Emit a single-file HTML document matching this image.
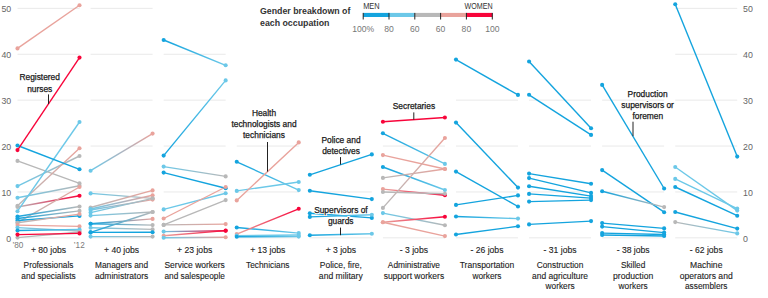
<!DOCTYPE html>
<html><head><meta charset="utf-8"><style>
html,body{margin:0;padding:0;background:#fff;}
svg{display:block;}
text{font-family:"Liberation Sans",sans-serif;}
.ax{font-size:8.8px;fill:#666;}
.yr{font-size:8.2px;fill:#7a7a7a;}
.jb{font-size:8.6px;fill:#1e1e1e;stroke:#1e1e1e;stroke-width:0.12px;}
.nm{font-size:8.3px;fill:#1e1e1e;stroke:#1e1e1e;stroke-width:0.12px;}
.ah{font-size:8.4px;fill:#fff;stroke:#fff;stroke-width:2.2px;stroke-linejoin:round;}
.an{font-size:8.4px;fill:#1a1a1a;stroke:#1a1a1a;stroke-width:0.25px;}
.tt{font-size:8.8px;font-weight:bold;fill:#333;}
.lh{font-size:8.2px;fill:#333;}
.tl{font-size:8.6px;fill:#777;}
</style></head><body>
<svg width="768" height="298" viewBox="0 0 768 298">
<rect width="768" height="298" fill="#fff"/>
<defs><linearGradient id="g1" gradientUnits="userSpaceOnUse" x1="17.50" y1="186.10" x2="79.50" y2="156.00"><stop offset="0" stop-color="#6cc8e8"/><stop offset="1" stop-color="#b8b8b8"/></linearGradient><linearGradient id="g2" gradientUnits="userSpaceOnUse" x1="17.50" y1="205.80" x2="79.50" y2="148.20"><stop offset="0" stop-color="#b8b8b8"/><stop offset="1" stop-color="#e9a39c"/></linearGradient><linearGradient id="g3" gradientUnits="userSpaceOnUse" x1="17.50" y1="197.70" x2="79.50" y2="185.80"><stop offset="0" stop-color="#6cc8e8"/><stop offset="1" stop-color="#b8b8b8"/></linearGradient><linearGradient id="g4" gradientUnits="userSpaceOnUse" x1="17.50" y1="207.00" x2="79.50" y2="195.70"><stop offset="0" stop-color="#b8b8b8"/><stop offset="1" stop-color="#f8043a"/></linearGradient><linearGradient id="g5" gradientUnits="userSpaceOnUse" x1="17.50" y1="222.70" x2="79.50" y2="187.00"><stop offset="0" stop-color="#b8b8b8"/><stop offset="1" stop-color="#e9a39c"/></linearGradient><linearGradient id="g6" gradientUnits="userSpaceOnUse" x1="17.50" y1="216.50" x2="79.50" y2="206.50"><stop offset="0" stop-color="#14a4de"/><stop offset="1" stop-color="#b8b8b8"/></linearGradient><linearGradient id="g7" gradientUnits="userSpaceOnUse" x1="17.50" y1="218.50" x2="79.50" y2="210.90"><stop offset="0" stop-color="#14a4de"/><stop offset="1" stop-color="#b8b8b8"/></linearGradient><linearGradient id="g8" gradientUnits="userSpaceOnUse" x1="17.50" y1="222.70" x2="79.50" y2="214.10"><stop offset="0" stop-color="#b8b8b8"/><stop offset="1" stop-color="#e9a39c"/></linearGradient><linearGradient id="g9" gradientUnits="userSpaceOnUse" x1="17.50" y1="227.60" x2="79.50" y2="231.00"><stop offset="0" stop-color="#6cc8e8"/><stop offset="1" stop-color="#b8b8b8"/></linearGradient><linearGradient id="g10" gradientUnits="userSpaceOnUse" x1="17.50" y1="230.50" x2="79.50" y2="229.50"><stop offset="0" stop-color="#14a4de"/><stop offset="1" stop-color="#6cc8e8"/></linearGradient><linearGradient id="g11" gradientUnits="userSpaceOnUse" x1="90.58" y1="170.70" x2="152.58" y2="133.60"><stop offset="0" stop-color="#6cc8e8"/><stop offset="1" stop-color="#e9a39c"/></linearGradient><linearGradient id="g12" gradientUnits="userSpaceOnUse" x1="90.58" y1="193.40" x2="152.58" y2="198.40"><stop offset="0" stop-color="#6cc8e8"/><stop offset="1" stop-color="#b8b8b8"/></linearGradient><linearGradient id="g13" gradientUnits="userSpaceOnUse" x1="90.58" y1="207.50" x2="152.58" y2="190.40"><stop offset="0" stop-color="#b8b8b8"/><stop offset="1" stop-color="#e9a39c"/></linearGradient><linearGradient id="g14" gradientUnits="userSpaceOnUse" x1="90.58" y1="209.00" x2="152.58" y2="195.30"><stop offset="0" stop-color="#6cc8e8"/><stop offset="1" stop-color="#e9a39c"/></linearGradient><linearGradient id="g15" gradientUnits="userSpaceOnUse" x1="90.58" y1="210.00" x2="152.58" y2="199.60"><stop offset="0" stop-color="#6cc8e8"/><stop offset="1" stop-color="#e9a39c"/></linearGradient><linearGradient id="g16" gradientUnits="userSpaceOnUse" x1="90.58" y1="212.60" x2="152.58" y2="198.40"><stop offset="0" stop-color="#6cc8e8"/><stop offset="1" stop-color="#b8b8b8"/></linearGradient><linearGradient id="g17" gradientUnits="userSpaceOnUse" x1="90.58" y1="215.60" x2="152.58" y2="212.00"><stop offset="0" stop-color="#6cc8e8"/><stop offset="1" stop-color="#b8b8b8"/></linearGradient><linearGradient id="g18" gradientUnits="userSpaceOnUse" x1="90.58" y1="223.70" x2="152.58" y2="218.90"><stop offset="0" stop-color="#14a4de"/><stop offset="1" stop-color="#e9a39c"/></linearGradient><linearGradient id="g19" gradientUnits="userSpaceOnUse" x1="90.58" y1="223.70" x2="152.58" y2="225.10"><stop offset="0" stop-color="#14a4de"/><stop offset="1" stop-color="#b8b8b8"/></linearGradient><linearGradient id="g20" gradientUnits="userSpaceOnUse" x1="90.58" y1="227.70" x2="152.58" y2="229.40"><stop offset="0" stop-color="#6cc8e8"/><stop offset="1" stop-color="#b8b8b8"/></linearGradient><linearGradient id="g21" gradientUnits="userSpaceOnUse" x1="90.58" y1="232.40" x2="152.58" y2="212.00"><stop offset="0" stop-color="#14a4de"/><stop offset="1" stop-color="#b8b8b8"/></linearGradient><linearGradient id="g22" gradientUnits="userSpaceOnUse" x1="90.58" y1="236.60" x2="152.58" y2="236.60"><stop offset="0" stop-color="#6cc8e8"/><stop offset="1" stop-color="#b8b8b8"/></linearGradient><linearGradient id="g23" gradientUnits="userSpaceOnUse" x1="163.66" y1="40.00" x2="225.66" y2="65.30"><stop offset="0" stop-color="#14a4de"/><stop offset="1" stop-color="#6cc8e8"/></linearGradient><linearGradient id="g24" gradientUnits="userSpaceOnUse" x1="163.66" y1="155.60" x2="225.66" y2="80.40"><stop offset="0" stop-color="#14a4de"/><stop offset="1" stop-color="#6cc8e8"/></linearGradient><linearGradient id="g25" gradientUnits="userSpaceOnUse" x1="163.66" y1="166.60" x2="225.66" y2="176.40"><stop offset="0" stop-color="#6cc8e8"/><stop offset="1" stop-color="#b8b8b8"/></linearGradient><linearGradient id="g26" gradientUnits="userSpaceOnUse" x1="163.66" y1="224.90" x2="225.66" y2="224.10"><stop offset="0" stop-color="#b8b8b8"/><stop offset="1" stop-color="#e9a39c"/></linearGradient><linearGradient id="g27" gradientUnits="userSpaceOnUse" x1="163.66" y1="231.60" x2="225.66" y2="230.80"><stop offset="0" stop-color="#6cc8e8"/><stop offset="1" stop-color="#f8043a"/></linearGradient><linearGradient id="g28" gradientUnits="userSpaceOnUse" x1="163.66" y1="235.70" x2="225.66" y2="230.60"><stop offset="0" stop-color="#e9a39c"/><stop offset="1" stop-color="#f8043a"/></linearGradient><linearGradient id="g29" gradientUnits="userSpaceOnUse" x1="163.66" y1="237.70" x2="225.66" y2="237.20"><stop offset="0" stop-color="#6cc8e8"/><stop offset="1" stop-color="#e9a39c"/></linearGradient><linearGradient id="g30" gradientUnits="userSpaceOnUse" x1="236.74" y1="161.80" x2="298.74" y2="190.10"><stop offset="0" stop-color="#14a4de"/><stop offset="1" stop-color="#6cc8e8"/></linearGradient><linearGradient id="g31" gradientUnits="userSpaceOnUse" x1="236.74" y1="227.50" x2="298.74" y2="233.10"><stop offset="0" stop-color="#14a4de"/><stop offset="1" stop-color="#6cc8e8"/></linearGradient><linearGradient id="g32" gradientUnits="userSpaceOnUse" x1="236.74" y1="234.10" x2="298.74" y2="208.80"><stop offset="0" stop-color="#e9a39c"/><stop offset="1" stop-color="#f8043a"/></linearGradient><linearGradient id="g33" gradientUnits="userSpaceOnUse" x1="236.74" y1="236.80" x2="298.74" y2="236.60"><stop offset="0" stop-color="#14a4de"/><stop offset="1" stop-color="#6cc8e8"/></linearGradient><linearGradient id="g34" gradientUnits="userSpaceOnUse" x1="309.82" y1="216.90" x2="371.82" y2="214.80"><stop offset="0" stop-color="#14a4de"/><stop offset="1" stop-color="#6cc8e8"/></linearGradient><linearGradient id="g35" gradientUnits="userSpaceOnUse" x1="309.82" y1="235.20" x2="371.82" y2="233.70"><stop offset="0" stop-color="#14a4de"/><stop offset="1" stop-color="#6cc8e8"/></linearGradient><linearGradient id="g36" gradientUnits="userSpaceOnUse" x1="382.90" y1="133.30" x2="444.90" y2="163.90"><stop offset="0" stop-color="#14a4de"/><stop offset="1" stop-color="#6cc8e8"/></linearGradient><linearGradient id="g37" gradientUnits="userSpaceOnUse" x1="382.90" y1="167.00" x2="444.90" y2="190.00"><stop offset="0" stop-color="#14a4de"/><stop offset="1" stop-color="#6cc8e8"/></linearGradient><linearGradient id="g38" gradientUnits="userSpaceOnUse" x1="382.90" y1="177.90" x2="444.90" y2="169.00"><stop offset="0" stop-color="#b8b8b8"/><stop offset="1" stop-color="#e9a39c"/></linearGradient><linearGradient id="g39" gradientUnits="userSpaceOnUse" x1="382.90" y1="189.10" x2="444.90" y2="195.20"><stop offset="0" stop-color="#e9a39c"/><stop offset="1" stop-color="#f8043a"/></linearGradient><linearGradient id="g40" gradientUnits="userSpaceOnUse" x1="382.90" y1="207.90" x2="444.90" y2="138.00"><stop offset="0" stop-color="#b8b8b8"/><stop offset="1" stop-color="#e9a39c"/></linearGradient><linearGradient id="g41" gradientUnits="userSpaceOnUse" x1="382.90" y1="213.10" x2="444.90" y2="225.30"><stop offset="0" stop-color="#6cc8e8"/><stop offset="1" stop-color="#b8b8b8"/></linearGradient><linearGradient id="g42" gradientUnits="userSpaceOnUse" x1="382.90" y1="222.30" x2="444.90" y2="216.80"><stop offset="0" stop-color="#e9a39c"/><stop offset="1" stop-color="#f8043a"/></linearGradient><linearGradient id="g43" gradientUnits="userSpaceOnUse" x1="455.98" y1="216.50" x2="517.98" y2="218.60"><stop offset="0" stop-color="#14a4de"/><stop offset="1" stop-color="#6cc8e8"/></linearGradient><linearGradient id="g44" gradientUnits="userSpaceOnUse" x1="602.14" y1="191.20" x2="664.14" y2="207.10"><stop offset="0" stop-color="#14a4de"/><stop offset="1" stop-color="#b8b8b8"/></linearGradient><linearGradient id="g45" gradientUnits="userSpaceOnUse" x1="675.22" y1="222.10" x2="737.22" y2="233.40"><stop offset="0" stop-color="#b8b8b8"/><stop offset="1" stop-color="#6cc8e8"/></linearGradient></defs>
<g stroke="#e9e9e9" stroke-width="1"><line x1="17.50" y1="237.85" x2="79.50" y2="237.85"/><line x1="17.50" y1="191.95" x2="79.50" y2="191.95"/><line x1="17.50" y1="146.05" x2="79.50" y2="146.05"/><line x1="17.50" y1="100.15" x2="79.50" y2="100.15"/><line x1="17.50" y1="54.25" x2="79.50" y2="54.25"/><line x1="17.50" y1="8.35" x2="79.50" y2="8.35"/><line x1="90.58" y1="237.85" x2="152.58" y2="237.85"/><line x1="90.58" y1="191.95" x2="152.58" y2="191.95"/><line x1="90.58" y1="146.05" x2="152.58" y2="146.05"/><line x1="90.58" y1="100.15" x2="152.58" y2="100.15"/><line x1="90.58" y1="54.25" x2="152.58" y2="54.25"/><line x1="90.58" y1="8.35" x2="152.58" y2="8.35"/><line x1="163.66" y1="237.85" x2="225.66" y2="237.85"/><line x1="163.66" y1="191.95" x2="225.66" y2="191.95"/><line x1="163.66" y1="146.05" x2="225.66" y2="146.05"/><line x1="163.66" y1="100.15" x2="225.66" y2="100.15"/><line x1="163.66" y1="54.25" x2="225.66" y2="54.25"/><line x1="236.74" y1="237.85" x2="298.74" y2="237.85"/><line x1="236.74" y1="191.95" x2="298.74" y2="191.95"/><line x1="236.74" y1="146.05" x2="298.74" y2="146.05"/><line x1="309.82" y1="237.85" x2="371.82" y2="237.85"/><line x1="309.82" y1="191.95" x2="371.82" y2="191.95"/><line x1="382.90" y1="237.85" x2="444.90" y2="237.85"/><line x1="382.90" y1="191.95" x2="444.90" y2="191.95"/><line x1="382.90" y1="146.05" x2="444.90" y2="146.05"/><line x1="455.98" y1="237.85" x2="517.98" y2="237.85"/><line x1="455.98" y1="191.95" x2="517.98" y2="191.95"/><line x1="455.98" y1="146.05" x2="517.98" y2="146.05"/><line x1="455.98" y1="100.15" x2="517.98" y2="100.15"/><line x1="529.06" y1="237.85" x2="591.06" y2="237.85"/><line x1="529.06" y1="191.95" x2="591.06" y2="191.95"/><line x1="529.06" y1="146.05" x2="591.06" y2="146.05"/><line x1="529.06" y1="100.15" x2="591.06" y2="100.15"/><line x1="602.14" y1="237.85" x2="664.14" y2="237.85"/><line x1="602.14" y1="191.95" x2="664.14" y2="191.95"/><line x1="602.14" y1="146.05" x2="664.14" y2="146.05"/><line x1="602.14" y1="100.15" x2="664.14" y2="100.15"/><line x1="675.22" y1="237.85" x2="737.22" y2="237.85"/><line x1="675.22" y1="191.95" x2="737.22" y2="191.95"/><line x1="675.22" y1="146.05" x2="737.22" y2="146.05"/><line x1="675.22" y1="100.15" x2="737.22" y2="100.15"/><line x1="675.22" y1="54.25" x2="737.22" y2="54.25"/><line x1="675.22" y1="8.35" x2="737.22" y2="8.35"/></g>
<g stroke-width="1.4" fill="none"><line x1="17.50" y1="48.40" x2="79.50" y2="5.30" stroke="#e9a39c"/><line x1="17.50" y1="160.90" x2="79.50" y2="183.40" stroke="#b8b8b8"/><line x1="17.50" y1="186.10" x2="79.50" y2="156.00" stroke="url(#g1)"/><line x1="17.50" y1="205.80" x2="79.50" y2="148.20" stroke="url(#g2)"/><line x1="17.50" y1="197.70" x2="79.50" y2="185.80" stroke="url(#g3)"/><line x1="17.50" y1="207.00" x2="79.50" y2="195.70" stroke="url(#g4)"/><line x1="17.50" y1="222.70" x2="79.50" y2="187.00" stroke="url(#g5)"/><line x1="17.50" y1="211.20" x2="79.50" y2="122.00" stroke="#6cc8e8"/><line x1="17.50" y1="216.50" x2="79.50" y2="206.50" stroke="url(#g6)"/><line x1="17.50" y1="218.50" x2="79.50" y2="210.90" stroke="url(#g7)"/><line x1="17.50" y1="220.50" x2="79.50" y2="215.90" stroke="#14a4de"/><line x1="17.50" y1="222.70" x2="79.50" y2="214.10" stroke="url(#g8)"/><line x1="17.50" y1="225.10" x2="79.50" y2="226.40" stroke="#e9a39c"/><line x1="17.50" y1="227.60" x2="79.50" y2="231.00" stroke="url(#g9)"/><line x1="17.50" y1="230.50" x2="79.50" y2="229.50" stroke="url(#g10)"/><line x1="17.50" y1="237.60" x2="79.50" y2="232.00" stroke="#b8b8b8"/><line x1="17.50" y1="234.60" x2="79.50" y2="233.40" stroke="#f8043a"/><line x1="17.50" y1="145.50" x2="79.50" y2="169.30" stroke="#14a4de"/><line x1="17.50" y1="150.10" x2="79.50" y2="57.60" stroke="#f8043a"/><line x1="90.58" y1="170.70" x2="152.58" y2="133.60" stroke="url(#g11)"/><line x1="90.58" y1="193.40" x2="152.58" y2="198.40" stroke="url(#g12)"/><line x1="90.58" y1="207.50" x2="152.58" y2="190.40" stroke="url(#g13)"/><line x1="90.58" y1="209.00" x2="152.58" y2="195.30" stroke="url(#g14)"/><line x1="90.58" y1="210.00" x2="152.58" y2="199.60" stroke="url(#g15)"/><line x1="90.58" y1="212.60" x2="152.58" y2="198.40" stroke="url(#g16)"/><line x1="90.58" y1="215.60" x2="152.58" y2="212.00" stroke="url(#g17)"/><line x1="90.58" y1="223.70" x2="152.58" y2="218.90" stroke="url(#g18)"/><line x1="90.58" y1="223.70" x2="152.58" y2="225.10" stroke="url(#g19)"/><line x1="90.58" y1="227.70" x2="152.58" y2="229.40" stroke="url(#g20)"/><line x1="90.58" y1="232.40" x2="152.58" y2="212.00" stroke="url(#g21)"/><line x1="90.58" y1="232.40" x2="152.58" y2="232.30" stroke="#14a4de"/><line x1="90.58" y1="236.60" x2="152.58" y2="236.60" stroke="url(#g22)"/><line x1="163.66" y1="40.00" x2="225.66" y2="65.30" stroke="url(#g23)"/><line x1="163.66" y1="155.60" x2="225.66" y2="80.40" stroke="url(#g24)"/><line x1="163.66" y1="166.60" x2="225.66" y2="176.40" stroke="url(#g25)"/><line x1="163.66" y1="172.60" x2="225.66" y2="188.20" stroke="#14a4de"/><line x1="163.66" y1="209.40" x2="225.66" y2="193.20" stroke="#6cc8e8"/><line x1="163.66" y1="218.50" x2="225.66" y2="187.00" stroke="#e9a39c"/><line x1="163.66" y1="224.90" x2="225.66" y2="200.10" stroke="#b8b8b8"/><line x1="163.66" y1="224.90" x2="225.66" y2="224.10" stroke="url(#g26)"/><line x1="163.66" y1="231.60" x2="225.66" y2="230.80" stroke="url(#g27)"/><line x1="163.66" y1="235.70" x2="225.66" y2="230.60" stroke="url(#g28)"/><line x1="163.66" y1="237.70" x2="225.66" y2="237.20" stroke="url(#g29)"/><line x1="236.74" y1="161.80" x2="298.74" y2="190.10" stroke="url(#g30)"/><line x1="236.74" y1="190.90" x2="298.74" y2="182.00" stroke="#6cc8e8"/><line x1="236.74" y1="200.40" x2="298.74" y2="142.40" stroke="#e9a39c"/><line x1="236.74" y1="227.50" x2="298.74" y2="233.10" stroke="url(#g31)"/><line x1="236.74" y1="234.10" x2="298.74" y2="208.80" stroke="url(#g32)"/><line x1="236.74" y1="235.60" x2="298.74" y2="235.00" stroke="#6cc8e8"/><line x1="236.74" y1="236.80" x2="298.74" y2="236.60" stroke="url(#g33)"/><line x1="309.82" y1="174.80" x2="371.82" y2="154.40" stroke="#14a4de"/><line x1="309.82" y1="190.80" x2="371.82" y2="199.10" stroke="#14a4de"/><line x1="309.82" y1="213.20" x2="371.82" y2="217.90" stroke="#14a4de"/><line x1="309.82" y1="216.90" x2="371.82" y2="214.80" stroke="url(#g34)"/><line x1="309.82" y1="235.20" x2="371.82" y2="233.70" stroke="url(#g35)"/><line x1="382.90" y1="121.80" x2="444.90" y2="117.50" stroke="#f8043a"/><line x1="382.90" y1="133.30" x2="444.90" y2="163.90" stroke="url(#g36)"/><line x1="382.90" y1="155.10" x2="444.90" y2="169.00" stroke="#e9a39c"/><line x1="382.90" y1="167.00" x2="444.90" y2="190.00" stroke="url(#g37)"/><line x1="382.90" y1="177.90" x2="444.90" y2="169.00" stroke="url(#g38)"/><line x1="382.90" y1="189.10" x2="444.90" y2="195.20" stroke="url(#g39)"/><line x1="382.90" y1="192.00" x2="444.90" y2="193.70" stroke="#b8b8b8"/><line x1="382.90" y1="207.90" x2="444.90" y2="138.00" stroke="url(#g40)"/><line x1="382.90" y1="213.10" x2="444.90" y2="225.30" stroke="url(#g41)"/><line x1="382.90" y1="222.30" x2="444.90" y2="216.80" stroke="url(#g42)"/><line x1="382.90" y1="222.30" x2="444.90" y2="236.10" stroke="#e9a39c"/><line x1="455.98" y1="59.60" x2="517.98" y2="94.90" stroke="#14a4de"/><line x1="455.98" y1="122.60" x2="517.98" y2="187.60" stroke="#14a4de"/><line x1="455.98" y1="171.60" x2="517.98" y2="206.50" stroke="#14a4de"/><line x1="455.98" y1="204.90" x2="517.98" y2="195.40" stroke="#14a4de"/><line x1="455.98" y1="216.50" x2="517.98" y2="218.60" stroke="url(#g43)"/><line x1="455.98" y1="234.50" x2="517.98" y2="226.30" stroke="#14a4de"/><line x1="529.06" y1="61.50" x2="591.06" y2="128.30" stroke="#14a4de"/><line x1="529.06" y1="94.80" x2="591.06" y2="134.90" stroke="#14a4de"/><line x1="529.06" y1="173.60" x2="591.06" y2="183.70" stroke="#14a4de"/><line x1="529.06" y1="178.10" x2="591.06" y2="192.90" stroke="#14a4de"/><line x1="529.06" y1="186.20" x2="591.06" y2="196.10" stroke="#14a4de"/><line x1="529.06" y1="193.90" x2="591.06" y2="198.10" stroke="#14a4de"/><line x1="529.06" y1="201.60" x2="591.06" y2="200.10" stroke="#14a4de"/><line x1="529.06" y1="224.40" x2="591.06" y2="221.10" stroke="#14a4de"/><line x1="602.14" y1="84.90" x2="664.14" y2="188.50" stroke="#14a4de"/><line x1="602.14" y1="170.10" x2="664.14" y2="212.20" stroke="#14a4de"/><line x1="602.14" y1="191.20" x2="664.14" y2="207.10" stroke="url(#g44)"/><line x1="602.14" y1="223.10" x2="664.14" y2="228.40" stroke="#14a4de"/><line x1="602.14" y1="226.60" x2="664.14" y2="232.60" stroke="#14a4de"/><line x1="602.14" y1="233.10" x2="664.14" y2="234.50" stroke="#14a4de"/><line x1="602.14" y1="235.00" x2="664.14" y2="236.00" stroke="#14a4de"/><line x1="675.22" y1="4.20" x2="737.22" y2="156.60" stroke="#14a4de"/><line x1="675.22" y1="167.00" x2="737.22" y2="210.60" stroke="#6cc8e8"/><line x1="675.22" y1="178.90" x2="737.22" y2="208.60" stroke="#6cc8e8"/><line x1="675.22" y1="187.00" x2="737.22" y2="215.70" stroke="#14a4de"/><line x1="675.22" y1="212.00" x2="737.22" y2="228.60" stroke="#14a4de"/><line x1="675.22" y1="222.10" x2="737.22" y2="233.40" stroke="url(#g45)"/></g>
<g><circle cx="17.50" cy="48.40" r="2.05" fill="#e9a39c"/><circle cx="79.50" cy="5.30" r="2.05" fill="#e9a39c"/><circle cx="17.50" cy="160.90" r="2.05" fill="#b8b8b8"/><circle cx="79.50" cy="183.40" r="2.05" fill="#b8b8b8"/><circle cx="17.50" cy="186.10" r="2.05" fill="#6cc8e8"/><circle cx="79.50" cy="156.00" r="2.05" fill="#b8b8b8"/><circle cx="17.50" cy="205.80" r="2.05" fill="#b8b8b8"/><circle cx="79.50" cy="148.20" r="2.05" fill="#e9a39c"/><circle cx="17.50" cy="197.70" r="2.05" fill="#6cc8e8"/><circle cx="79.50" cy="185.80" r="2.05" fill="#b8b8b8"/><circle cx="17.50" cy="207.00" r="2.05" fill="#b8b8b8"/><circle cx="79.50" cy="195.70" r="2.05" fill="#f8043a"/><circle cx="17.50" cy="222.70" r="2.05" fill="#b8b8b8"/><circle cx="79.50" cy="187.00" r="2.05" fill="#e9a39c"/><circle cx="17.50" cy="211.20" r="2.05" fill="#6cc8e8"/><circle cx="79.50" cy="122.00" r="2.05" fill="#6cc8e8"/><circle cx="17.50" cy="216.50" r="2.05" fill="#14a4de"/><circle cx="79.50" cy="206.50" r="2.05" fill="#b8b8b8"/><circle cx="17.50" cy="218.50" r="2.05" fill="#14a4de"/><circle cx="79.50" cy="210.90" r="2.05" fill="#b8b8b8"/><circle cx="17.50" cy="220.50" r="2.05" fill="#14a4de"/><circle cx="79.50" cy="215.90" r="2.05" fill="#14a4de"/><circle cx="17.50" cy="222.70" r="2.05" fill="#b8b8b8"/><circle cx="79.50" cy="214.10" r="2.05" fill="#e9a39c"/><circle cx="17.50" cy="225.10" r="2.05" fill="#e9a39c"/><circle cx="79.50" cy="226.40" r="2.05" fill="#e9a39c"/><circle cx="17.50" cy="227.60" r="2.05" fill="#6cc8e8"/><circle cx="79.50" cy="231.00" r="2.05" fill="#b8b8b8"/><circle cx="17.50" cy="230.50" r="2.05" fill="#14a4de"/><circle cx="79.50" cy="229.50" r="2.05" fill="#6cc8e8"/><circle cx="17.50" cy="237.60" r="2.05" fill="#b8b8b8"/><circle cx="79.50" cy="232.00" r="2.05" fill="#b8b8b8"/><circle cx="17.50" cy="234.60" r="2.05" fill="#f8043a"/><circle cx="79.50" cy="233.40" r="2.05" fill="#f8043a"/><circle cx="17.50" cy="145.50" r="2.05" fill="#14a4de"/><circle cx="79.50" cy="169.30" r="2.05" fill="#14a4de"/><circle cx="17.50" cy="150.10" r="2.05" fill="#f8043a"/><circle cx="79.50" cy="57.60" r="2.05" fill="#f8043a"/><circle cx="90.58" cy="170.70" r="2.05" fill="#6cc8e8"/><circle cx="152.58" cy="133.60" r="2.05" fill="#e9a39c"/><circle cx="90.58" cy="193.40" r="2.05" fill="#6cc8e8"/><circle cx="152.58" cy="198.40" r="2.05" fill="#b8b8b8"/><circle cx="90.58" cy="207.50" r="2.05" fill="#b8b8b8"/><circle cx="152.58" cy="190.40" r="2.05" fill="#e9a39c"/><circle cx="90.58" cy="209.00" r="2.05" fill="#6cc8e8"/><circle cx="152.58" cy="195.30" r="2.05" fill="#e9a39c"/><circle cx="90.58" cy="210.00" r="2.05" fill="#6cc8e8"/><circle cx="152.58" cy="199.60" r="2.05" fill="#e9a39c"/><circle cx="90.58" cy="212.60" r="2.05" fill="#6cc8e8"/><circle cx="152.58" cy="198.40" r="2.05" fill="#b8b8b8"/><circle cx="90.58" cy="215.60" r="2.05" fill="#6cc8e8"/><circle cx="152.58" cy="212.00" r="2.05" fill="#b8b8b8"/><circle cx="90.58" cy="223.70" r="2.05" fill="#14a4de"/><circle cx="152.58" cy="218.90" r="2.05" fill="#e9a39c"/><circle cx="90.58" cy="223.70" r="2.05" fill="#14a4de"/><circle cx="152.58" cy="225.10" r="2.05" fill="#b8b8b8"/><circle cx="90.58" cy="227.70" r="2.05" fill="#6cc8e8"/><circle cx="152.58" cy="229.40" r="2.05" fill="#b8b8b8"/><circle cx="90.58" cy="232.40" r="2.05" fill="#14a4de"/><circle cx="152.58" cy="212.00" r="2.05" fill="#b8b8b8"/><circle cx="90.58" cy="232.40" r="2.05" fill="#14a4de"/><circle cx="152.58" cy="232.30" r="2.05" fill="#14a4de"/><circle cx="90.58" cy="236.60" r="2.05" fill="#6cc8e8"/><circle cx="152.58" cy="236.60" r="2.05" fill="#b8b8b8"/><circle cx="163.66" cy="40.00" r="2.05" fill="#14a4de"/><circle cx="225.66" cy="65.30" r="2.05" fill="#6cc8e8"/><circle cx="163.66" cy="155.60" r="2.05" fill="#14a4de"/><circle cx="225.66" cy="80.40" r="2.05" fill="#6cc8e8"/><circle cx="163.66" cy="166.60" r="2.05" fill="#6cc8e8"/><circle cx="225.66" cy="176.40" r="2.05" fill="#b8b8b8"/><circle cx="163.66" cy="172.60" r="2.05" fill="#14a4de"/><circle cx="225.66" cy="188.20" r="2.05" fill="#14a4de"/><circle cx="163.66" cy="209.40" r="2.05" fill="#6cc8e8"/><circle cx="225.66" cy="193.20" r="2.05" fill="#6cc8e8"/><circle cx="163.66" cy="218.50" r="2.05" fill="#e9a39c"/><circle cx="225.66" cy="187.00" r="2.05" fill="#e9a39c"/><circle cx="163.66" cy="224.90" r="2.05" fill="#b8b8b8"/><circle cx="225.66" cy="200.10" r="2.05" fill="#b8b8b8"/><circle cx="163.66" cy="224.90" r="2.05" fill="#b8b8b8"/><circle cx="225.66" cy="224.10" r="2.05" fill="#e9a39c"/><circle cx="163.66" cy="231.60" r="2.05" fill="#6cc8e8"/><circle cx="225.66" cy="230.80" r="2.05" fill="#f8043a"/><circle cx="163.66" cy="235.70" r="2.05" fill="#e9a39c"/><circle cx="225.66" cy="230.60" r="2.05" fill="#f8043a"/><circle cx="163.66" cy="237.70" r="2.05" fill="#6cc8e8"/><circle cx="225.66" cy="237.20" r="2.05" fill="#e9a39c"/><circle cx="236.74" cy="161.80" r="2.05" fill="#14a4de"/><circle cx="298.74" cy="190.10" r="2.05" fill="#6cc8e8"/><circle cx="236.74" cy="190.90" r="2.05" fill="#6cc8e8"/><circle cx="298.74" cy="182.00" r="2.05" fill="#6cc8e8"/><circle cx="236.74" cy="200.40" r="2.05" fill="#e9a39c"/><circle cx="298.74" cy="142.40" r="2.05" fill="#e9a39c"/><circle cx="236.74" cy="227.50" r="2.05" fill="#14a4de"/><circle cx="298.74" cy="233.10" r="2.05" fill="#6cc8e8"/><circle cx="236.74" cy="234.10" r="2.05" fill="#e9a39c"/><circle cx="298.74" cy="208.80" r="2.05" fill="#f8043a"/><circle cx="236.74" cy="235.60" r="2.05" fill="#6cc8e8"/><circle cx="298.74" cy="235.00" r="2.05" fill="#6cc8e8"/><circle cx="236.74" cy="236.80" r="2.05" fill="#14a4de"/><circle cx="298.74" cy="236.60" r="2.05" fill="#6cc8e8"/><circle cx="309.82" cy="174.80" r="2.05" fill="#14a4de"/><circle cx="371.82" cy="154.40" r="2.05" fill="#14a4de"/><circle cx="309.82" cy="190.80" r="2.05" fill="#14a4de"/><circle cx="371.82" cy="199.10" r="2.05" fill="#14a4de"/><circle cx="309.82" cy="213.20" r="2.05" fill="#14a4de"/><circle cx="371.82" cy="217.90" r="2.05" fill="#14a4de"/><circle cx="309.82" cy="216.90" r="2.05" fill="#14a4de"/><circle cx="371.82" cy="214.80" r="2.05" fill="#6cc8e8"/><circle cx="309.82" cy="235.20" r="2.05" fill="#14a4de"/><circle cx="371.82" cy="233.70" r="2.05" fill="#6cc8e8"/><circle cx="382.90" cy="121.80" r="2.05" fill="#f8043a"/><circle cx="444.90" cy="117.50" r="2.05" fill="#f8043a"/><circle cx="382.90" cy="133.30" r="2.05" fill="#14a4de"/><circle cx="444.90" cy="163.90" r="2.05" fill="#6cc8e8"/><circle cx="382.90" cy="155.10" r="2.05" fill="#e9a39c"/><circle cx="444.90" cy="169.00" r="2.05" fill="#e9a39c"/><circle cx="382.90" cy="167.00" r="2.05" fill="#14a4de"/><circle cx="444.90" cy="190.00" r="2.05" fill="#6cc8e8"/><circle cx="382.90" cy="177.90" r="2.05" fill="#b8b8b8"/><circle cx="444.90" cy="169.00" r="2.05" fill="#e9a39c"/><circle cx="382.90" cy="189.10" r="2.05" fill="#e9a39c"/><circle cx="444.90" cy="195.20" r="2.05" fill="#f8043a"/><circle cx="382.90" cy="192.00" r="2.05" fill="#b8b8b8"/><circle cx="444.90" cy="193.70" r="2.05" fill="#b8b8b8"/><circle cx="382.90" cy="207.90" r="2.05" fill="#b8b8b8"/><circle cx="444.90" cy="138.00" r="2.05" fill="#e9a39c"/><circle cx="382.90" cy="213.10" r="2.05" fill="#6cc8e8"/><circle cx="444.90" cy="225.30" r="2.05" fill="#b8b8b8"/><circle cx="382.90" cy="222.30" r="2.05" fill="#e9a39c"/><circle cx="444.90" cy="216.80" r="2.05" fill="#f8043a"/><circle cx="382.90" cy="222.30" r="2.05" fill="#e9a39c"/><circle cx="444.90" cy="236.10" r="2.05" fill="#e9a39c"/><circle cx="455.98" cy="59.60" r="2.05" fill="#14a4de"/><circle cx="517.98" cy="94.90" r="2.05" fill="#14a4de"/><circle cx="455.98" cy="122.60" r="2.05" fill="#14a4de"/><circle cx="517.98" cy="187.60" r="2.05" fill="#14a4de"/><circle cx="455.98" cy="171.60" r="2.05" fill="#14a4de"/><circle cx="517.98" cy="206.50" r="2.05" fill="#14a4de"/><circle cx="455.98" cy="204.90" r="2.05" fill="#14a4de"/><circle cx="517.98" cy="195.40" r="2.05" fill="#14a4de"/><circle cx="455.98" cy="216.50" r="2.05" fill="#14a4de"/><circle cx="517.98" cy="218.60" r="2.05" fill="#6cc8e8"/><circle cx="455.98" cy="234.50" r="2.05" fill="#14a4de"/><circle cx="517.98" cy="226.30" r="2.05" fill="#14a4de"/><circle cx="529.06" cy="61.50" r="2.05" fill="#14a4de"/><circle cx="591.06" cy="128.30" r="2.05" fill="#14a4de"/><circle cx="529.06" cy="94.80" r="2.05" fill="#14a4de"/><circle cx="591.06" cy="134.90" r="2.05" fill="#14a4de"/><circle cx="529.06" cy="173.60" r="2.05" fill="#14a4de"/><circle cx="591.06" cy="183.70" r="2.05" fill="#14a4de"/><circle cx="529.06" cy="178.10" r="2.05" fill="#14a4de"/><circle cx="591.06" cy="192.90" r="2.05" fill="#14a4de"/><circle cx="529.06" cy="186.20" r="2.05" fill="#14a4de"/><circle cx="591.06" cy="196.10" r="2.05" fill="#14a4de"/><circle cx="529.06" cy="193.90" r="2.05" fill="#14a4de"/><circle cx="591.06" cy="198.10" r="2.05" fill="#14a4de"/><circle cx="529.06" cy="201.60" r="2.05" fill="#14a4de"/><circle cx="591.06" cy="200.10" r="2.05" fill="#14a4de"/><circle cx="529.06" cy="224.40" r="2.05" fill="#14a4de"/><circle cx="591.06" cy="221.10" r="2.05" fill="#14a4de"/><circle cx="602.14" cy="84.90" r="2.05" fill="#14a4de"/><circle cx="664.14" cy="188.50" r="2.05" fill="#14a4de"/><circle cx="602.14" cy="170.10" r="2.05" fill="#14a4de"/><circle cx="664.14" cy="212.20" r="2.05" fill="#14a4de"/><circle cx="602.14" cy="191.20" r="2.05" fill="#14a4de"/><circle cx="664.14" cy="207.10" r="2.05" fill="#b8b8b8"/><circle cx="602.14" cy="223.10" r="2.05" fill="#14a4de"/><circle cx="664.14" cy="228.40" r="2.05" fill="#14a4de"/><circle cx="602.14" cy="226.60" r="2.05" fill="#14a4de"/><circle cx="664.14" cy="232.60" r="2.05" fill="#14a4de"/><circle cx="602.14" cy="233.10" r="2.05" fill="#14a4de"/><circle cx="664.14" cy="234.50" r="2.05" fill="#14a4de"/><circle cx="602.14" cy="235.00" r="2.05" fill="#14a4de"/><circle cx="664.14" cy="236.00" r="2.05" fill="#14a4de"/><circle cx="675.22" cy="4.20" r="2.05" fill="#14a4de"/><circle cx="737.22" cy="156.60" r="2.05" fill="#14a4de"/><circle cx="675.22" cy="167.00" r="2.05" fill="#6cc8e8"/><circle cx="737.22" cy="210.60" r="2.05" fill="#6cc8e8"/><circle cx="675.22" cy="178.90" r="2.05" fill="#6cc8e8"/><circle cx="737.22" cy="208.60" r="2.05" fill="#6cc8e8"/><circle cx="675.22" cy="187.00" r="2.05" fill="#14a4de"/><circle cx="737.22" cy="215.70" r="2.05" fill="#14a4de"/><circle cx="675.22" cy="212.00" r="2.05" fill="#14a4de"/><circle cx="737.22" cy="228.60" r="2.05" fill="#14a4de"/><circle cx="675.22" cy="222.10" r="2.05" fill="#b8b8b8"/><circle cx="737.22" cy="233.40" r="2.05" fill="#6cc8e8"/></g>
<g><text x="11.2" y="241.85" text-anchor="end" class="ax">0</text><text x="743" y="241.85" text-anchor="start" class="ax">0</text><text x="11.2" y="195.95" text-anchor="end" class="ax">10</text><text x="743" y="195.95" text-anchor="start" class="ax">10</text><text x="11.2" y="150.05" text-anchor="end" class="ax">20</text><text x="743" y="150.05" text-anchor="start" class="ax">20</text><text x="11.2" y="104.15" text-anchor="end" class="ax">30</text><text x="743" y="104.15" text-anchor="start" class="ax">30</text><text x="11.2" y="58.25" text-anchor="end" class="ax">40</text><text x="743" y="58.25" text-anchor="start" class="ax">40</text><text x="11.2" y="12.35" text-anchor="end" class="ax">50</text><text x="743" y="12.35" text-anchor="start" class="ax">50</text><text x="17.9" y="247.8" text-anchor="middle" class="yr">’80</text><text x="79.25" y="247.8" text-anchor="middle" class="yr">’12</text><text x="48.5" y="252.6" text-anchor="middle" class="jb">+ 80 jobs</text><text x="48.5" y="267.6" text-anchor="middle" class="nm">Professionals</text><text x="48.5" y="278.6" text-anchor="middle" class="nm">and specialists</text><text x="121.58" y="252.6" text-anchor="middle" class="jb">+ 40 jobs</text><text x="121.58" y="267.6" text-anchor="middle" class="nm">Managers and</text><text x="121.58" y="278.6" text-anchor="middle" class="nm" textLength="53.3" lengthAdjust="spacingAndGlyphs">administrators</text><text x="194.66" y="252.6" text-anchor="middle" class="jb">+ 23 jobs</text><text x="194.66" y="267.6" text-anchor="middle" class="nm" textLength="60.4" lengthAdjust="spacingAndGlyphs">Service workers</text><text x="194.66" y="278.6" text-anchor="middle" class="nm">and salespeople</text><text x="267.74" y="252.6" text-anchor="middle" class="jb">+ 13 jobs</text><text x="267.74" y="267.6" text-anchor="middle" class="nm">Technicians</text><text x="340.82" y="252.6" text-anchor="middle" class="jb">+ 3 jobs</text><text x="340.82" y="267.6" text-anchor="middle" class="nm" textLength="42.0" lengthAdjust="spacingAndGlyphs">Police, fire,</text><text x="340.82" y="278.6" text-anchor="middle" class="nm" textLength="43.9" lengthAdjust="spacingAndGlyphs">and military</text><text x="413.9" y="252.6" text-anchor="middle" class="jb">- 3 jobs</text><text x="413.9" y="267.6" text-anchor="middle" class="nm">Administrative</text><text x="413.9" y="278.6" text-anchor="middle" class="nm" textLength="60.5" lengthAdjust="spacingAndGlyphs">support workers</text><text x="486.98" y="252.6" text-anchor="middle" class="jb">- 26 jobs</text><text x="486.98" y="267.6" text-anchor="middle" class="nm" textLength="54.5" lengthAdjust="spacingAndGlyphs">Transportation</text><text x="486.98" y="278.6" text-anchor="middle" class="nm">workers</text><text x="560.06" y="252.6" text-anchor="middle" class="jb">- 31 jobs</text><text x="560.06" y="267.6" text-anchor="middle" class="nm">Construction</text><text x="560.06" y="278.6" text-anchor="middle" class="nm" textLength="55.9" lengthAdjust="spacingAndGlyphs">and agriculture</text><text x="560.06" y="289.1" text-anchor="middle" class="nm">workers</text><text x="633.14" y="252.6" text-anchor="middle" class="jb">- 38 jobs</text><text x="633.14" y="267.6" text-anchor="middle" class="nm">Skilled</text><text x="633.14" y="278.6" text-anchor="middle" class="nm" textLength="40.2" lengthAdjust="spacingAndGlyphs">production</text><text x="633.14" y="289.1" text-anchor="middle" class="nm">workers</text><text x="706.22" y="252.6" text-anchor="middle" class="jb">- 62 jobs</text><text x="706.22" y="267.6" text-anchor="middle" class="nm" textLength="32.4" lengthAdjust="spacingAndGlyphs">Machine</text><text x="706.22" y="278.6" text-anchor="middle" class="nm" textLength="52.9" lengthAdjust="spacingAndGlyphs">operators and</text><text x="706.22" y="289.1" text-anchor="middle" class="nm">assemblers</text></g>
<g><text x="260" y="13.8" class="tt">Gender breakdown of</text><text x="260" y="25.5" class="tt">each occupation</text><text x="363.2" y="8.8" class="lh" textLength="16.5" lengthAdjust="spacingAndGlyphs">MEN</text><text x="464.4" y="8.8" class="lh" textLength="28.2" lengthAdjust="spacingAndGlyphs">WOMEN</text><rect x="363.2" y="12.9" width="25.80" height="4.1" fill="#14a4de"/><rect x="389.0" y="12.9" width="25.80" height="4.1" fill="#6cc8e8"/><rect x="414.8" y="12.9" width="25.80" height="4.1" fill="#b8b8b8"/><rect x="440.6" y="12.9" width="25.80" height="4.1" fill="#e9a39c"/><rect x="466.4" y="12.9" width="25.90" height="4.1" fill="#f8043a"/><rect x="362.70" y="12.9" width="1" height="6.6" fill="#222"/><rect x="388.50" y="12.9" width="1" height="6.6" fill="#222"/><rect x="414.30" y="12.9" width="1" height="6.6" fill="#222"/><rect x="440.10" y="12.9" width="1" height="6.6" fill="#222"/><rect x="465.90" y="12.9" width="1" height="6.6" fill="#222"/><rect x="491.80" y="12.9" width="1" height="6.6" fill="#222"/><text x="363.2" y="31.5" class="tl" text-anchor="middle">100%</text><text x="389.0" y="31.5" class="tl" text-anchor="middle">80</text><text x="414.8" y="31.5" class="tl" text-anchor="middle">60</text><text x="440.6" y="31.5" class="tl" text-anchor="middle">60</text><text x="466.4" y="31.5" class="tl" text-anchor="middle">80</text><text x="492.3" y="31.5" class="tl" text-anchor="middle">100</text></g>
<g><text x="39.7" y="80.1" text-anchor="middle" class="ah">Registered</text><text x="39.7" y="80.1" text-anchor="middle" class="an">Registered</text><text x="39.7" y="91.6" text-anchor="middle" class="ah">nurses</text><text x="39.7" y="91.6" text-anchor="middle" class="an">nurses</text><text x="264" y="115.9" text-anchor="middle" class="ah">Health</text><text x="264" y="115.9" text-anchor="middle" class="an">Health</text><text x="264" y="126.9" text-anchor="middle" class="ah">technologists and</text><text x="264" y="126.9" text-anchor="middle" class="an">technologists and</text><text x="264" y="137.9" text-anchor="middle" class="ah">technicians</text><text x="264" y="137.9" text-anchor="middle" class="an">technicians</text><text x="341" y="142.7" text-anchor="middle" class="ah">Police and</text><text x="341" y="142.7" text-anchor="middle" class="an">Police and</text><text x="341" y="153.9" text-anchor="middle" class="ah">detectives</text><text x="341" y="153.9" text-anchor="middle" class="an">detectives</text><text x="340.9" y="212.7" text-anchor="middle" class="ah">Supervisors of</text><text x="340.9" y="212.7" text-anchor="middle" class="an">Supervisors of</text><text x="340.7" y="224.2" text-anchor="middle" class="ah">guards</text><text x="340.7" y="224.2" text-anchor="middle" class="an">guards</text><text x="413.9" y="108.9" text-anchor="middle" class="ah">Secretaries</text><text x="413.9" y="108.9" text-anchor="middle" class="an">Secretaries</text><text x="647.6" y="96.5" text-anchor="middle" class="ah">Production</text><text x="647.6" y="96.5" text-anchor="middle" class="an">Production</text><text x="647.6" y="107.6" text-anchor="middle" class="ah">supervisors or</text><text x="647.6" y="107.6" text-anchor="middle" class="an">supervisors or</text><text x="647.8" y="118.6" text-anchor="middle" class="ah">foremen</text><text x="647.8" y="118.6" text-anchor="middle" class="an">foremen</text></g>
<g stroke="#222" stroke-width="1"><line x1="48.5" y1="94.4" x2="48.5" y2="104.0"/><line x1="267.5" y1="142.0" x2="267.5" y2="171.6"/><line x1="340.5" y1="157.1" x2="340.5" y2="164.6"/><line x1="340.5" y1="227.6" x2="340.5" y2="235.2"/><line x1="413.8" y1="112.4" x2="413.8" y2="119.6"/><line x1="633.0" y1="121.7" x2="633.0" y2="136.2"/></g>
</svg>
</body></html>
